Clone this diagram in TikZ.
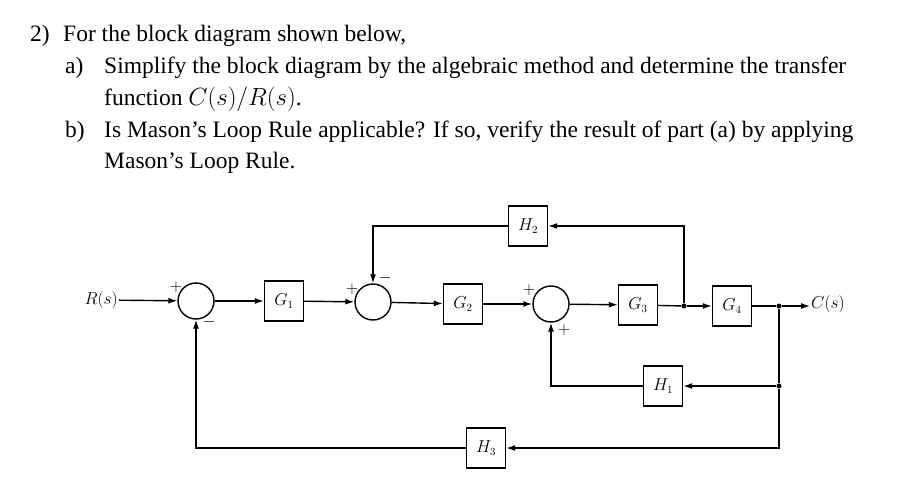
\documentclass[tikz,border=0pt]{standalone}
\usepackage{fontspec}
\setmainfont{Liberation Serif}
\usetikzlibrary{arrows.meta}
\begin{document}
\begin{tikzpicture}[x=1pt,y=-1pt,
  blk/.style={draw,line width=1.4pt,minimum width=39pt,minimum height=40pt,inner sep=0pt,font=\fontsize{16}{18}\selectfont},
  sm/.style={draw,circle,line width=1.4pt,minimum size=36pt,inner sep=0pt},
  ln/.style={line width=1.4pt},
  ar/.style={ln,-{Latex[length=9pt,width=6pt]}},
  dot/.style={circle,fill,inner sep=0pt,minimum size=5pt},
  sg/.style={font=\fontsize{16}{18}\selectfont,inner sep=1pt},
  txt/.style={anchor=base west,inner sep=0pt,font=\fontsize{23.5}{27}\selectfont}]
\useasboundingbox (0,0) rectangle (918,481);
% text
\node[txt] (n1) at (30,42) {2)};
\node[txt] (t1) at (63,42) {For the block diagram shown below,};
\node[txt] (n2) at (65,74) {a)};
\node[txt] (t2) at (104,74) {Simplify the block diagram by the algebraic method and determine the transfer};
\node[txt] (t3) at (104,106) {function $C(s)/R(s)$.};
\node[txt] (n4) at (65,138) {b)};
\node[txt] (t4) at (104,138) {Is Mason’s Loop Rule applicable? If so, verify the result of part (a) by applying};
\node[txt] (t5) at (104,169) {Mason’s Loop Rule.};
% diagram
\node[sg,anchor=east] (R) at (119,300) {$R(s)$};
\node[sm] (s1) at (196,301) {};
\node[blk] (G1) at (284,301) {$G_1$};
\node[sm] (s2) at (373,302) {};
\node[blk] (G2) at (463,304) {$G_2$};
\node[blk] (H2) at (528,226) {$H_2$};
\node[sm] (s3) at (551,304) {};
\node[blk] (G3) at (638,305) {$G_3$};
\node[dot] (d1) at (684,306) {};
\node[blk] (G4) at (732,306) {$G_4$};
\node[dot] (d2) at (779,306) {};
\coordinate (Cend) at (810,306);
\node[sg,anchor=west] (C) at (810,304) {$C(s)$};
\node[blk] (H1) at (663,386) {$H_1$};
\node[dot] (d3) at (779,386) {};
\node[blk] (H3) at (486,448) {$H_3$};
\coordinate (c1) at (684,226);
\coordinate (c2) at (373,226);
\coordinate (c3) at (551,386);
\coordinate (c4) at (779,448);
\coordinate (c5) at (196,448);
\draw[ar] (R) -- (s1);
\draw[ar] (s1) -- (G1);
\draw[ar] (G1) -- (s2);
\draw[ar] (s2) -- (G2);
\draw[ar] (G2) -- (s3);
\draw[ar] (s3) -- (G3);
\draw[ln] (G3) -- (d1);
\draw[ar] (d1) -- (G4);
\draw[ln] (G4) -- (d2);
\draw[ar] (d2) -- (Cend);
\draw[ar] (d1) -- (c1) -- (H2);
\draw[ar] (H2) -- (c2) -- (s2);
\draw[ln] (d2) -- (d3);
\draw[ar] (d3) -- (H1);
\draw[ar] (H1) -- (c3) -- (s3);
\draw[ar] (d3) -- (c4) -- (H3);
\draw[ar] (H3) -- (c5) -- (s1);
% signs
\node[sg] at (176,287) {$+$};
\node[sg] at (209,322) {$-$};
\node[sg] at (352,289) {$+$};
\node[sg] at (385,278) {$-$};
\node[sg] at (529,290) {$+$};
\node[sg] at (564,330) {$+$};
\end{tikzpicture}
\end{document}
